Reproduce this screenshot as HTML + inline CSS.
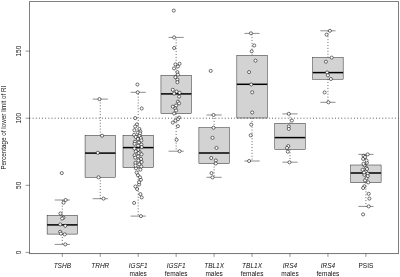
<!DOCTYPE html>
<html><head><meta charset="utf-8"><title>Boxplot</title>
<style>html,body{margin:0;padding:0;background:#fff}body{width:400px;height:277px;overflow:hidden}</style></head>
<body>
<svg width="400" height="277" viewBox="0 0 400 277" style="display:block">
<rect width="400" height="277" fill="#fff"/>
<g stroke="#000" fill="none">
<line x1="62.30" x2="62.30" y1="215.4" y2="200.0" stroke-width="0.6" stroke-dasharray="1 1.9"/>
<line x1="62.30" x2="62.30" y1="234.1" y2="244.4" stroke-width="0.6" stroke-dasharray="1 1.9"/>
<line x1="54.70" x2="69.90" y1="200.0" y2="200.0" stroke-width="0.45"/>
<line x1="54.70" x2="69.90" y1="244.4" y2="244.4" stroke-width="0.45"/>
<rect x="47.10" y="215.4" width="30.4" height="18.70" fill="#d3d3d3" stroke-width="0.42"/>
<line x1="47.10" x2="77.50" y1="224.9" y2="224.9" stroke-width="1.5"/>
</g>
<g stroke="#000" fill="none">
<line x1="100.25" x2="100.25" y1="135.4" y2="99.1" stroke-width="0.6" stroke-dasharray="1 1.9"/>
<line x1="100.25" x2="100.25" y1="177.4" y2="198.7" stroke-width="0.6" stroke-dasharray="1 1.9"/>
<line x1="92.65" x2="107.85" y1="99.1" y2="99.1" stroke-width="0.45"/>
<line x1="92.65" x2="107.85" y1="198.7" y2="198.7" stroke-width="0.45"/>
<rect x="85.05" y="135.4" width="30.4" height="42.00" fill="#d3d3d3" stroke-width="0.42"/>
<line x1="85.05" x2="115.45" y1="153.1" y2="153.1" stroke-width="1.5"/>
</g>
<g stroke="#000" fill="none">
<line x1="138.20" x2="138.20" y1="135.4" y2="92.3" stroke-width="0.6" stroke-dasharray="1 1.9"/>
<line x1="138.20" x2="138.20" y1="167.7" y2="216.1" stroke-width="0.6" stroke-dasharray="1 1.9"/>
<line x1="130.60" x2="145.80" y1="92.3" y2="92.3" stroke-width="0.45"/>
<line x1="130.60" x2="145.80" y1="216.1" y2="216.1" stroke-width="0.45"/>
<rect x="123.00" y="135.4" width="30.4" height="32.30" fill="#d3d3d3" stroke-width="0.42"/>
<line x1="123.00" x2="153.40" y1="147.6" y2="147.6" stroke-width="1.5"/>
</g>
<g stroke="#000" fill="none">
<line x1="176.15" x2="176.15" y1="75.3" y2="37.4" stroke-width="0.6" stroke-dasharray="1 1.9"/>
<line x1="176.15" x2="176.15" y1="113.6" y2="151.2" stroke-width="0.6" stroke-dasharray="1 1.9"/>
<line x1="168.55" x2="183.75" y1="37.4" y2="37.4" stroke-width="0.45"/>
<line x1="168.55" x2="183.75" y1="151.2" y2="151.2" stroke-width="0.45"/>
<rect x="160.95" y="75.3" width="30.4" height="38.30" fill="#d3d3d3" stroke-width="0.42"/>
<line x1="160.95" x2="191.35" y1="93.9" y2="93.9" stroke-width="1.5"/>
</g>
<g stroke="#000" fill="none">
<line x1="214.10" x2="214.10" y1="127.7" y2="115.0" stroke-width="0.6" stroke-dasharray="1 1.9"/>
<line x1="214.10" x2="214.10" y1="163.6" y2="177.3" stroke-width="0.6" stroke-dasharray="1 1.9"/>
<line x1="206.50" x2="221.70" y1="115.0" y2="115.0" stroke-width="0.45"/>
<line x1="206.50" x2="221.70" y1="177.3" y2="177.3" stroke-width="0.45"/>
<rect x="198.90" y="127.7" width="30.4" height="35.90" fill="#d3d3d3" stroke-width="0.42"/>
<line x1="198.90" x2="229.30" y1="153.0" y2="153.0" stroke-width="1.5"/>
</g>
<g stroke="#000" fill="none">
<line x1="252.05" x2="252.05" y1="55.4" y2="33.4" stroke-width="0.6" stroke-dasharray="1 1.9"/>
<line x1="252.05" x2="252.05" y1="118.0" y2="161.0" stroke-width="0.6" stroke-dasharray="1 1.9"/>
<line x1="244.45" x2="259.65" y1="33.4" y2="33.4" stroke-width="0.45"/>
<line x1="244.45" x2="259.65" y1="161.0" y2="161.0" stroke-width="0.45"/>
<rect x="236.85" y="55.4" width="30.4" height="62.60" fill="#d3d3d3" stroke-width="0.42"/>
<line x1="236.85" x2="267.25" y1="84.3" y2="84.3" stroke-width="1.5"/>
</g>
<g stroke="#000" fill="none">
<line x1="290.00" x2="290.00" y1="123.4" y2="113.9" stroke-width="0.6" stroke-dasharray="1 1.9"/>
<line x1="290.00" x2="290.00" y1="149.4" y2="162.2" stroke-width="0.6" stroke-dasharray="1 1.9"/>
<line x1="282.40" x2="297.60" y1="113.9" y2="113.9" stroke-width="0.45"/>
<line x1="282.40" x2="297.60" y1="162.2" y2="162.2" stroke-width="0.45"/>
<rect x="274.80" y="123.4" width="30.4" height="26.00" fill="#d3d3d3" stroke-width="0.42"/>
<line x1="274.80" x2="305.20" y1="137.6" y2="137.6" stroke-width="1.5"/>
</g>
<g stroke="#000" fill="none">
<line x1="327.95" x2="327.95" y1="57.6" y2="30.8" stroke-width="0.6" stroke-dasharray="1 1.9"/>
<line x1="327.95" x2="327.95" y1="79.2" y2="102.3" stroke-width="0.6" stroke-dasharray="1 1.9"/>
<line x1="320.35" x2="335.55" y1="30.8" y2="30.8" stroke-width="0.45"/>
<line x1="320.35" x2="335.55" y1="102.3" y2="102.3" stroke-width="0.45"/>
<rect x="312.75" y="57.6" width="30.4" height="21.60" fill="#d3d3d3" stroke-width="0.42"/>
<line x1="312.75" x2="343.15" y1="72.6" y2="72.6" stroke-width="1.5"/>
</g>
<g stroke="#000" fill="none">
<line x1="365.90" x2="365.90" y1="165.0" y2="154.4" stroke-width="0.6" stroke-dasharray="1 1.9"/>
<line x1="365.90" x2="365.90" y1="182.7" y2="206.4" stroke-width="0.6" stroke-dasharray="1 1.9"/>
<line x1="358.30" x2="373.50" y1="154.4" y2="154.4" stroke-width="0.45"/>
<line x1="358.30" x2="373.50" y1="206.4" y2="206.4" stroke-width="0.45"/>
<rect x="350.70" y="165.0" width="30.4" height="17.70" fill="#d3d3d3" stroke-width="0.42"/>
<line x1="350.70" x2="381.10" y1="173.0" y2="173.0" stroke-width="1.5"/>
</g>
<line x1="29.5" x2="398.5" y1="118.2" y2="118.2" stroke="#000" stroke-width="0.7" stroke-dasharray="0.9 2.25"/>
<g fill="#fff" stroke="#000" stroke-width="0.55">
<circle cx="61.8" cy="173.1" r="1.55"/>
<circle cx="65.6" cy="200.0" r="1.55"/>
<circle cx="63.6" cy="202.7" r="1.55"/>
<circle cx="60.4" cy="213.5" r="1.55"/>
<circle cx="63.4" cy="217.7" r="1.55"/>
<circle cx="62.1" cy="218.5" r="1.55"/>
<circle cx="60.2" cy="224.4" r="1.55"/>
<circle cx="65.3" cy="225.8" r="1.55"/>
<circle cx="60.2" cy="231.8" r="1.55"/>
<circle cx="60.9" cy="233.6" r="1.55"/>
<circle cx="64.7" cy="234.4" r="1.55"/>
<circle cx="65.3" cy="244.4" r="1.55"/>
<circle cx="99.5" cy="99.1" r="1.55"/>
<circle cx="102.1" cy="135.7" r="1.55"/>
<circle cx="97.8" cy="152.8" r="1.55"/>
<circle cx="98.5" cy="177.3" r="1.55"/>
<circle cx="103.5" cy="198.6" r="1.55"/>
<circle cx="137.4" cy="84.5" r="1.55"/>
<circle cx="137.7" cy="92.3" r="1.55"/>
<circle cx="141.7" cy="108.5" r="1.55"/>
<circle cx="135.2" cy="118.1" r="1.55"/>
<circle cx="136.9" cy="124.4" r="1.55"/>
<circle cx="135.2" cy="126.5" r="1.55"/>
<circle cx="139.4" cy="129.0" r="1.55"/>
<circle cx="134.1" cy="202.9" r="1.55"/>
<circle cx="141.7" cy="197.4" r="1.55"/>
<circle cx="140.4" cy="194.1" r="1.55"/>
<circle cx="137.1" cy="189.0" r="1.55"/>
<circle cx="135.4" cy="186.5" r="1.55"/>
<circle cx="139.1" cy="184.5" r="1.55"/>
<circle cx="139.1" cy="182.2" r="1.55"/>
<circle cx="140.9" cy="179.7" r="1.55"/>
<circle cx="139.9" cy="177.2" r="1.55"/>
<circle cx="137.9" cy="175.2" r="1.55"/>
<circle cx="136.6" cy="172.6" r="1.55"/>
<circle cx="140.4" cy="169.6" r="1.55"/>
<circle cx="135.9" cy="168.3" r="1.55"/>
<circle cx="140.9" cy="216.1" r="1.55"/>
<circle cx="134.4" cy="130.2" r="1.55"/>
<circle cx="140.3" cy="131.4" r="1.55"/>
<circle cx="137.9" cy="132.6" r="1.55"/>
<circle cx="140.1" cy="133.4" r="1.55"/>
<circle cx="134.1" cy="134.8" r="1.55"/>
<circle cx="139.5" cy="135.8" r="1.55"/>
<circle cx="135.7" cy="136.9" r="1.55"/>
<circle cx="140.9" cy="138.1" r="1.55"/>
<circle cx="137.9" cy="139.0" r="1.55"/>
<circle cx="141.3" cy="140.4" r="1.55"/>
<circle cx="135.0" cy="141.7" r="1.55"/>
<circle cx="139.0" cy="142.5" r="1.55"/>
<circle cx="134.6" cy="143.8" r="1.55"/>
<circle cx="141.4" cy="144.6" r="1.55"/>
<circle cx="138.1" cy="145.7" r="1.55"/>
<circle cx="141.7" cy="147.1" r="1.55"/>
<circle cx="134.4" cy="148.6" r="1.55"/>
<circle cx="138.3" cy="149.9" r="1.55"/>
<circle cx="135.8" cy="151.4" r="1.55"/>
<circle cx="139.8" cy="152.2" r="1.55"/>
<circle cx="138.6" cy="153.2" r="1.55"/>
<circle cx="141.5" cy="154.3" r="1.55"/>
<circle cx="134.6" cy="155.3" r="1.55"/>
<circle cx="138.1" cy="156.4" r="1.55"/>
<circle cx="135.2" cy="157.6" r="1.55"/>
<circle cx="141.0" cy="159.0" r="1.55"/>
<circle cx="138.4" cy="160.5" r="1.55"/>
<circle cx="141.6" cy="162.0" r="1.55"/>
<circle cx="135.4" cy="162.9" r="1.55"/>
<circle cx="139.3" cy="164.4" r="1.55"/>
<circle cx="135.5" cy="165.6" r="1.55"/>
<circle cx="141.3" cy="166.5" r="1.55"/>
<circle cx="173.8" cy="10.6" r="1.55"/>
<circle cx="174.1" cy="37.4" r="1.55"/>
<circle cx="174.1" cy="48.0" r="1.55"/>
<circle cx="175.4" cy="64.4" r="1.55"/>
<circle cx="179.6" cy="63.8" r="1.55"/>
<circle cx="177.9" cy="66.5" r="1.55"/>
<circle cx="174.0" cy="68.4" r="1.55"/>
<circle cx="177.4" cy="72.1" r="1.55"/>
<circle cx="177.9" cy="74.6" r="1.55"/>
<circle cx="175.4" cy="77.2" r="1.55"/>
<circle cx="177.4" cy="79.7" r="1.55"/>
<circle cx="177.4" cy="82.2" r="1.55"/>
<circle cx="172.8" cy="89.8" r="1.55"/>
<circle cx="176.6" cy="91.6" r="1.55"/>
<circle cx="179.6" cy="92.8" r="1.55"/>
<circle cx="174.1" cy="93.6" r="1.55"/>
<circle cx="179.1" cy="96.6" r="1.55"/>
<circle cx="177.9" cy="101.7" r="1.55"/>
<circle cx="179.1" cy="103.4" r="1.55"/>
<circle cx="176.1" cy="105.5" r="1.55"/>
<circle cx="172.8" cy="106.7" r="1.55"/>
<circle cx="175.4" cy="108.5" r="1.55"/>
<circle cx="176.1" cy="110.5" r="1.55"/>
<circle cx="174.1" cy="113.5" r="1.55"/>
<circle cx="179.1" cy="117.6" r="1.55"/>
<circle cx="177.9" cy="119.3" r="1.55"/>
<circle cx="175.4" cy="120.6" r="1.55"/>
<circle cx="172.8" cy="122.6" r="1.55"/>
<circle cx="177.9" cy="126.2" r="1.55"/>
<circle cx="176.6" cy="139.8" r="1.55"/>
<circle cx="179.6" cy="151.2" r="1.55"/>
<circle cx="210.7" cy="70.9" r="1.55"/>
<circle cx="213.5" cy="115.0" r="1.55"/>
<circle cx="213.5" cy="127.7" r="1.55"/>
<circle cx="212.5" cy="137.8" r="1.55"/>
<circle cx="216.5" cy="147.9" r="1.55"/>
<circle cx="211.2" cy="158.0" r="1.55"/>
<circle cx="215.8" cy="160.5" r="1.55"/>
<circle cx="215.8" cy="163.5" r="1.55"/>
<circle cx="211.5" cy="173.1" r="1.55"/>
<circle cx="212.5" cy="177.4" r="1.55"/>
<circle cx="250.9" cy="33.3" r="1.55"/>
<circle cx="254.2" cy="45.5" r="1.55"/>
<circle cx="251.7" cy="51.3" r="1.55"/>
<circle cx="255.5" cy="60.6" r="1.55"/>
<circle cx="249.1" cy="72.1" r="1.55"/>
<circle cx="251.2" cy="84.5" r="1.55"/>
<circle cx="252.2" cy="92.3" r="1.55"/>
<circle cx="252.2" cy="112.5" r="1.55"/>
<circle cx="251.2" cy="124.6" r="1.55"/>
<circle cx="250.7" cy="135.3" r="1.55"/>
<circle cx="249.1" cy="161.0" r="1.55"/>
<circle cx="288.8" cy="113.8" r="1.55"/>
<circle cx="291.9" cy="120.6" r="1.55"/>
<circle cx="288.8" cy="126.4" r="1.55"/>
<circle cx="288.8" cy="128.9" r="1.55"/>
<circle cx="288.3" cy="146.1" r="1.55"/>
<circle cx="287.0" cy="147.9" r="1.55"/>
<circle cx="287.8" cy="151.7" r="1.55"/>
<circle cx="289.5" cy="162.3" r="1.55"/>
<circle cx="329.9" cy="30.8" r="1.55"/>
<circle cx="326.6" cy="34.6" r="1.55"/>
<circle cx="331.7" cy="57.6" r="1.55"/>
<circle cx="325.9" cy="61.7" r="1.55"/>
<circle cx="327.1" cy="72.5" r="1.55"/>
<circle cx="327.9" cy="75.3" r="1.55"/>
<circle cx="330.9" cy="79.0" r="1.55"/>
<circle cx="324.6" cy="92.4" r="1.55"/>
<circle cx="328.4" cy="102.3" r="1.55"/>
<circle cx="367.7" cy="154.4" r="1.55"/>
<circle cx="363.6" cy="155.7" r="1.55"/>
<circle cx="363.1" cy="158.9" r="1.55"/>
<circle cx="366.9" cy="162.7" r="1.55"/>
<circle cx="364.4" cy="165.3" r="1.55"/>
<circle cx="366.2" cy="167.8" r="1.55"/>
<circle cx="362.6" cy="169.8" r="1.55"/>
<circle cx="365.7" cy="171.6" r="1.55"/>
<circle cx="367.7" cy="173.6" r="1.55"/>
<circle cx="364.4" cy="174.8" r="1.55"/>
<circle cx="367.7" cy="176.1" r="1.55"/>
<circle cx="368.2" cy="182.4" r="1.55"/>
<circle cx="364.4" cy="186.2" r="1.55"/>
<circle cx="363.1" cy="188.0" r="1.55"/>
<circle cx="368.7" cy="193.8" r="1.55"/>
<circle cx="369.4" cy="198.6" r="1.55"/>
<circle cx="368.7" cy="206.4" r="1.55"/>
<circle cx="363.1" cy="214.4" r="1.55"/>
<circle cx="365.0" cy="157.0" r="1.55"/>
<circle cx="366.5" cy="160.5" r="1.55"/>
<circle cx="363.5" cy="163.8" r="1.55"/>
<circle cx="367.0" cy="169.0" r="1.55"/>
<circle cx="364.0" cy="172.5" r="1.55"/>
<circle cx="366.4" cy="178.5" r="1.55"/>
<circle cx="365.0" cy="180.4" r="1.55"/>
</g>
<path d="M29.5 253.55V1.5H398.5V253.55" fill="none" stroke="#000" stroke-width="0.5"/>
<line x1="29.25" x2="398.75" y1="253.55" y2="253.55" stroke="#000" stroke-width="0.55"/>
<g stroke="#000" stroke-width="0.42">
<line x1="25.6" x2="29.5" y1="252.40" y2="252.40"/>
<line x1="25.6" x2="29.5" y1="185.30" y2="185.30"/>
<line x1="25.6" x2="29.5" y1="118.20" y2="118.20"/>
<line x1="25.6" x2="29.5" y1="51.10" y2="51.10"/>
<line x1="62.30" x2="62.30" y1="253.55" y2="256.9"/>
<line x1="100.25" x2="100.25" y1="253.55" y2="256.9"/>
<line x1="138.20" x2="138.20" y1="253.55" y2="256.9"/>
<line x1="176.15" x2="176.15" y1="253.55" y2="256.9"/>
<line x1="214.10" x2="214.10" y1="253.55" y2="256.9"/>
<line x1="252.05" x2="252.05" y1="253.55" y2="256.9"/>
<line x1="290.00" x2="290.00" y1="253.55" y2="256.9"/>
<line x1="327.95" x2="327.95" y1="253.55" y2="256.9"/>
<line x1="365.90" x2="365.90" y1="253.55" y2="256.9"/>
</g>
<g font-family="'Liberation Sans', Arial, sans-serif" font-size="6.5" fill="#111" text-anchor="middle">
<text transform="translate(20.7,252.40) rotate(-90)">0</text>
<text transform="translate(20.7,185.30) rotate(-90)">50</text>
<text transform="translate(20.7,118.20) rotate(-90)">100</text>
<text transform="translate(20.7,51.10) rotate(-90)">150</text>
<text transform="translate(5.7,127.6) rotate(-90)" font-size="6.3">Percentage of lower limit of RI</text>
<text x="62.30" y="268.3" font-style="italic">TSHB</text>
<text x="100.25" y="268.3" font-style="italic">TRHR</text>
<text x="138.20" y="268.3" font-style="italic">IGSF1</text>
<text x="138.20" y="275.5">males</text>
<text x="176.15" y="268.3" font-style="italic">IGSF1</text>
<text x="176.15" y="275.5">females</text>
<text x="214.10" y="268.3" font-style="italic">TBL1X</text>
<text x="214.10" y="275.5">males</text>
<text x="252.05" y="268.3" font-style="italic">TBL1X</text>
<text x="252.05" y="275.5">females</text>
<text x="290.00" y="268.3" font-style="italic">IRS4</text>
<text x="290.00" y="275.5">males</text>
<text x="327.95" y="268.3" font-style="italic">IRS4</text>
<text x="327.95" y="275.5">females</text>
<text x="365.90" y="268.3">PSIS</text>
</g>
</svg>
</body></html>
